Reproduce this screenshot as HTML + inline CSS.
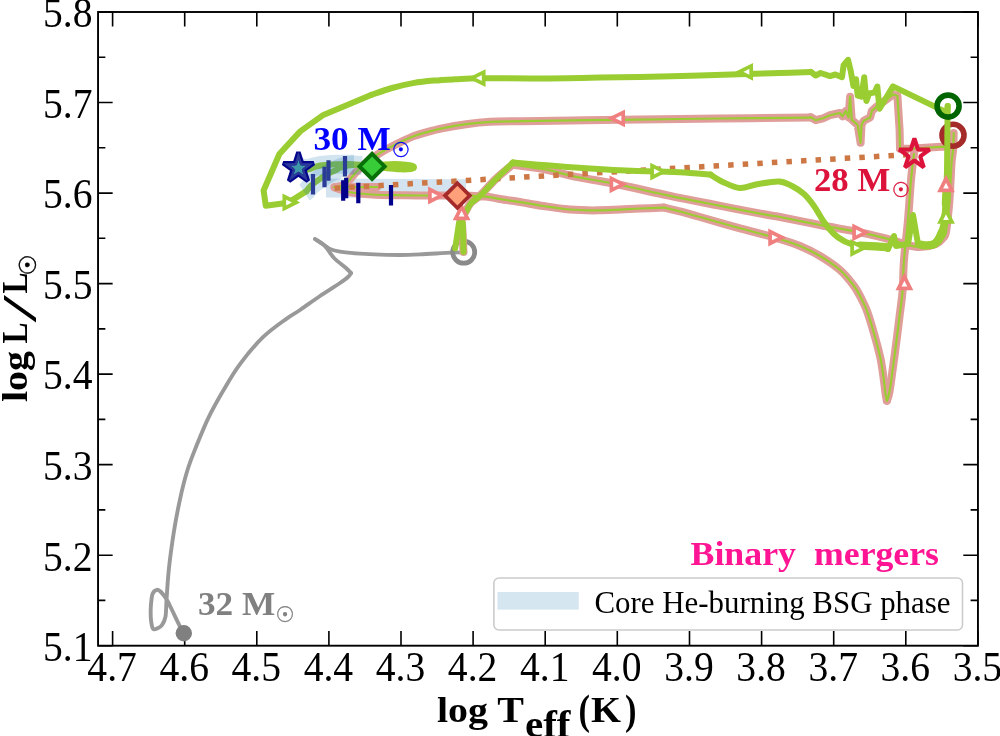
<!DOCTYPE html>
<html lang="en"><head><meta charset="utf-8"><title>HR diagram - binary mergers</title>
<style>html,body{margin:0;padding:0;background:#fff;overflow:hidden}svg{display:block}</style></head>
<body>
<svg width="1000" height="736" viewBox="0 0 1000 736">
<rect width="1000" height="736" fill="#fff"/>
<defs><clipPath id="ax"><rect x="98.05" y="12.0" width="879.85" height="633.7"/></clipPath></defs>
<g clip-path="url(#ax)" fill="none" stroke-linejoin="round">
<g stroke="#999999" stroke-width="3.9" stroke-linecap="round">
<path d="M183.8 633.3 C183.2 632.2 182 630.4 180 626.5 C178 622.6 174.2 614.5 172 610 C169.8 605.5 168.5 602.6 166.7 599.6 C164.9 596.6 162.6 593.6 161 592 C159.4 590.4 158.3 589.5 156.9 589.8 C155.5 590.1 153.5 591.1 152.5 594 C151.5 596.9 151.1 602.7 150.8 607 C150.6 611.3 150.6 616.3 151 620 C151.4 623.7 152 627.7 153.2 629 C154.4 630.3 156.6 628.6 158 628 C159.4 627.4 160.6 627.2 161.8 625.3 C163.1 623.4 164.7 621.4 165.5 616.7 C166.3 612 166.1 605.1 166.7 597 C167.3 588.9 167.8 578.8 169 567.8 C170.2 556.8 172.2 542.4 174 531 C175.8 519.6 177.8 509.5 180 499.3 C182.2 489.1 184.8 478.7 187.5 470 C190.2 461.3 192.5 455.7 196 447 C199.5 438.3 204 426.9 208.5 417.6 C213 408.3 217.8 399.9 223 391 C228.2 382.1 233.1 373.3 239.8 364.3 C246.5 355.3 255.2 344.8 263 337.2 C270.8 329.6 280.5 323.1 286.7 318.6 C292.9 314.1 294.4 313.8 300 310 C305.6 306.2 313.3 300.5 320 296 C326.7 291.5 335.3 286.2 340 283 C344.7 279.8 346.2 278.7 348 277 C349.8 275.3 350.5 273.7 351 273"/>
<path d="M351 273 C350.2 272.2 348.8 270.5 346 268 C343.2 265.5 337.5 261.7 334 258 C330.5 254.3 328.2 249.2 325 246 C321.8 242.8 316.7 240.2 315 239"/>
<path d="M315 239 C316.5 240 321.5 243.3 324 245 C326.5 246.7 327.3 247.9 330 249 C332.7 250.1 335 250.8 340 251.6 C345 252.4 353.3 253.1 360 253.6 C366.7 254.1 373.3 254.4 380 254.6 C386.7 254.8 393.3 255 400 255 C406.7 255 411.3 254.8 420 254.4 C428.7 254 444.7 252.9 452 252.6 C459.3 252.3 462 252.4 464 252.4"/>
</g>
<circle cx="463.7" cy="252.2" r="11" stroke="#8a8a8a" stroke-width="4.8"/>
<path d="M326 188 L466 188.7" stroke="#d3e4f0" stroke-width="19"/>
<g stroke="#df9e99" stroke-width="8" stroke-linecap="round">
<path d="M463.5 252 C463.2 247.3 462.5 229.4 462 224 C461.5 218.6 460.8 220.5 460.5 219.8"/>
<path d="M460.5 219.8 C461.3 218.5 463.5 215 465.2 212.2 C466.9 209.4 468.2 205.8 470.8 202.9 C473.4 200.1 476.3 199.1 480.5 195.1 C484.7 191.1 490.5 184.1 495.8 179 C501.1 173.9 509.7 167.2 512.5 164.8"/>
<path d="M512.5 164.8 C518.2 165.6 537 167.9 546.8 169.7 C556.6 171.5 559.9 173.4 571.3 175.8 C582.7 178.2 599 180.7 615.3 184 C631.6 187.3 651.8 192 668.9 195.6 C686 199.2 701.6 202.2 717.9 205.4 C734.2 208.6 756.4 212.9 766.8 214.8 C777.1 216.7 771.1 215.3 780 217 C788.9 218.7 806.7 222.4 820 225 C833.3 227.6 848 229.9 860 232.4 C872 234.9 884.7 238.1 892 240 C899.3 241.9 899.3 242.8 904 244 C908.7 245.2 914.7 247 920 247 C925.3 247 932.2 245.5 936 244 C939.8 242.5 941.3 240 943 238 C944.7 236 945 237.3 946 232 C947 226.7 948.2 214.7 949 206 C949.8 197.3 950.2 187.3 950.6 180 C951 172.7 951.2 167.2 951.6 162 C952 156.8 952.9 153.3 953.2 148.5 C953.6 143.7 953.6 135.6 953.7 133"/>
<path d="M953.2 147.6 L944.8 146.6 L914 148.5 L900 148.7"/>
<path d="M900 148.5 L899.6 130 L897.4 95.7 L893 94.6 L880 104.3 L876.7 106.5 L871.8 110.9 L870.2 117.4 L863.7 120.7 L861.5 125 L860.6 142.8 L857.7 125 L851.7 119.6 L850.1 96.7 L848.5 117.4 L845.8 110.9 L842.5 116.3 L839.8 113 L830 115.2 L823 118.3 L815.7 120.2 L810.8 117.1"/>
<path d="M810.8 117.6 C795.3 117.8 749.7 118.1 717.9 118.5 C686.1 118.9 644.4 119.5 620 119.8 C595.6 120.1 587.6 120.2 571.3 120.4 C555 120.6 535.8 121 522.3 121.2 C508.7 121.4 499.4 121.3 490 121.8 C480.6 122.3 474 123.1 466 124.2 C458 125.3 448.8 127 442 128.4 C435.2 129.8 429.8 131.3 425 132.6 C420.2 133.9 416.8 134.9 413 136.4 C409.2 137.9 405.8 139.6 402.2 141.3 C398.6 143 394.9 144.8 391.3 146.7 C387.7 148.6 383.6 150.8 380.4 152.7 C377.2 154.6 374.6 156.4 372 158.2 C369.4 160 367.2 161.7 365 163.6 C362.8 165.5 360.6 167.5 358.6 169.6 C356.6 171.7 354.5 174 352.8 176 C351.1 178 349.7 180.1 348.2 181.6 C346.7 183.1 345.7 184.2 344 185 C342.3 185.8 339.6 186.3 338 186.7 C336.4 187.1 335.1 187.1 334.5 187.2"/>
<path d="M334.5 187.2 L377 187"/>
<path d="M336 188 C338.2 188.7 343 190.9 349 192 C355 193.1 362.7 193.9 372 194.5 C381.3 195.1 394 195.1 405 195.3 C416 195.5 429.2 195.5 438 195.5 C446.8 195.5 454.7 195.5 458 195.5"/>
<path d="M458 195.3 C460.2 195.4 466.3 195.6 471 195.8 C475.7 196 481.2 196.1 486 196.6 C490.8 197.1 494 198 500 199 C506 200 514.8 201.2 522 202.4 C529.2 203.6 536.3 204.9 543.5 206 C550.7 207.1 557.8 208.3 565 209 C572.2 209.7 581.2 210.1 587 210.3 C592.8 210.5 594.5 210.4 600 210.3 C605.5 210.2 613.3 209.9 620 209.6 C626.7 209.3 632.7 208.8 640 208.5 C647.3 208.2 660 207.8 664 207.6"/>
<path d="M664 207.6 C666.8 208.3 675 210.1 681 211.7 C687 213.3 690.2 214.2 700 217 C709.8 219.8 727.3 224.8 740 228.3 C752.7 231.8 766 235.1 776 238 C786 240.9 792.7 243 800 246 C807.3 249 813.3 252 820 256 C826.7 260 834.3 265 840 270 C845.7 275 850.3 281 854 286 C857.7 291 859.8 295.6 862 300 C864.2 304.4 865.3 306.1 867.5 312.3 C869.7 318.5 872.8 329.1 875 337 C877.2 344.9 879.3 352.8 880.8 359.8 C882.2 366.8 882.9 373.2 883.7 378.9 C884.5 384.6 885.1 390.4 885.6 394 C886.1 397.6 886.7 399.6 886.9 400.7"/>
<path d="M886.9 400.7 C887.3 399.3 888.3 398 889.4 392.2 C890.5 386.4 891.9 374.8 893.2 365.6 C894.5 356.4 895.9 345.6 897 337 C898.1 328.4 898.8 322.1 899.8 314.2 C900.8 306.3 902 298.5 902.7 289.5 C903.4 280.5 903.1 271.6 904 260 C904.9 248.4 906.8 233.3 908 220 C909.2 206.7 910 191 911 180 C912 169 913.5 158.3 914 154"/>
</g>
<g stroke="#9acd32" stroke-width="2.2" stroke-linecap="round">
<path d="M463.5 252 C463.2 247.3 462.5 229.4 462 224 C461.5 218.6 460.8 220.5 460.5 219.8"/>
<path d="M460.5 219.8 C461.3 218.5 463.5 215 465.2 212.2 C466.9 209.4 468.2 205.8 470.8 202.9 C473.4 200.1 476.3 199.1 480.5 195.1 C484.7 191.1 490.5 184.1 495.8 179 C501.1 173.9 509.7 167.2 512.5 164.8"/>
<path d="M512.5 164.8 C518.2 165.6 537 167.9 546.8 169.7 C556.6 171.5 559.9 173.4 571.3 175.8 C582.7 178.2 599 180.7 615.3 184 C631.6 187.3 651.8 192 668.9 195.6 C686 199.2 701.6 202.2 717.9 205.4 C734.2 208.6 756.4 212.9 766.8 214.8 C777.1 216.7 771.1 215.3 780 217 C788.9 218.7 806.7 222.4 820 225 C833.3 227.6 848 229.9 860 232.4 C872 234.9 884.7 238.1 892 240 C899.3 241.9 899.3 242.8 904 244 C908.7 245.2 914.7 247 920 247 C925.3 247 932.2 245.5 936 244 C939.8 242.5 941.3 240 943 238 C944.7 236 945 237.3 946 232 C947 226.7 948.2 214.7 949 206 C949.8 197.3 950.2 187.3 950.6 180 C951 172.7 951.2 167.2 951.6 162 C952 156.8 952.9 153.3 953.2 148.5 C953.6 143.7 953.6 135.6 953.7 133"/>
<path d="M953.2 147.6 L944.8 146.6 L914 148.5 L900 148.7"/>
<path d="M900 148.5 L899.6 130 L897.4 95.7 L893 94.6 L880 104.3 L876.7 106.5 L871.8 110.9 L870.2 117.4 L863.7 120.7 L861.5 125 L860.6 142.8 L857.7 125 L851.7 119.6 L850.1 96.7 L848.5 117.4 L845.8 110.9 L842.5 116.3 L839.8 113 L830 115.2 L823 118.3 L815.7 120.2 L810.8 117.1"/>
<path d="M810.8 117.6 C795.3 117.8 749.7 118.1 717.9 118.5 C686.1 118.9 644.4 119.5 620 119.8 C595.6 120.1 587.6 120.2 571.3 120.4 C555 120.6 535.8 121 522.3 121.2 C508.7 121.4 499.4 121.3 490 121.8 C480.6 122.3 474 123.1 466 124.2 C458 125.3 448.8 127 442 128.4 C435.2 129.8 429.8 131.3 425 132.6 C420.2 133.9 416.8 134.9 413 136.4 C409.2 137.9 405.8 139.6 402.2 141.3 C398.6 143 394.9 144.8 391.3 146.7 C387.7 148.6 383.6 150.8 380.4 152.7 C377.2 154.6 374.6 156.4 372 158.2 C369.4 160 367.2 161.7 365 163.6 C362.8 165.5 360.6 167.5 358.6 169.6 C356.6 171.7 354.5 174 352.8 176 C351.1 178 349.7 180.1 348.2 181.6 C346.7 183.1 345.7 184.2 344 185 C342.3 185.8 339.6 186.3 338 186.7 C336.4 187.1 335.1 187.1 334.5 187.2"/>
<path d="M334.5 187.2 L377 187"/>
<path d="M336 188 C338.2 188.7 343 190.9 349 192 C355 193.1 362.7 193.9 372 194.5 C381.3 195.1 394 195.1 405 195.3 C416 195.5 429.2 195.5 438 195.5 C446.8 195.5 454.7 195.5 458 195.5"/>
<path d="M458 195.3 C460.2 195.4 466.3 195.6 471 195.8 C475.7 196 481.2 196.1 486 196.6 C490.8 197.1 494 198 500 199 C506 200 514.8 201.2 522 202.4 C529.2 203.6 536.3 204.9 543.5 206 C550.7 207.1 557.8 208.3 565 209 C572.2 209.7 581.2 210.1 587 210.3 C592.8 210.5 594.5 210.4 600 210.3 C605.5 210.2 613.3 209.9 620 209.6 C626.7 209.3 632.7 208.8 640 208.5 C647.3 208.2 660 207.8 664 207.6"/>
<path d="M664 207.6 C666.8 208.3 675 210.1 681 211.7 C687 213.3 690.2 214.2 700 217 C709.8 219.8 727.3 224.8 740 228.3 C752.7 231.8 766 235.1 776 238 C786 240.9 792.7 243 800 246 C807.3 249 813.3 252 820 256 C826.7 260 834.3 265 840 270 C845.7 275 850.3 281 854 286 C857.7 291 859.8 295.6 862 300 C864.2 304.4 865.3 306.1 867.5 312.3 C869.7 318.5 872.8 329.1 875 337 C877.2 344.9 879.3 352.8 880.8 359.8 C882.2 366.8 882.9 373.2 883.7 378.9 C884.5 384.6 885.1 390.4 885.6 394 C886.1 397.6 886.7 399.6 886.9 400.7"/>
<path d="M886.9 400.7 C887.3 399.3 888.3 398 889.4 392.2 C890.5 386.4 891.9 374.8 893.2 365.6 C894.5 356.4 895.9 345.6 897 337 C898.1 328.4 898.8 322.1 899.8 314.2 C900.8 306.3 902 298.5 902.7 289.5 C903.4 280.5 903.1 271.6 904 260 C904.9 248.4 906.8 233.3 908 220 C909.2 206.7 910 191 911 180 C912 169 913.5 158.3 914 154"/>
</g>
<path d="M334.6 188.2 L914 154.3" stroke="#cd7744" stroke-width="5.5" stroke-dasharray="5.5 9.1"/>
<circle cx="953" cy="135.2" r="11" stroke="#a52a2a" stroke-width="5.6"/>
<g stroke="#9acd32" stroke-width="6" stroke-linecap="round">
<path d="M455.2 248.4 L459 223 L461 219.8"/>
<path d="M463.5 252 C463.4 247.3 463.2 229.4 462.8 224 C462.4 218.6 461.3 220.5 461 219.8"/>
<path d="M461 219.8 C461.8 218.5 463.9 215 465.6 212.2 C467.3 209.4 468.8 205.8 471.3 202.9 C473.8 200.1 476.7 199.1 480.8 195.1 C484.9 191.1 490.6 184.4 496 179 C501.4 173.6 510.2 165.2 513 162.5"/>
<path d="M513 162.5 C518.6 163 534 164.3 546.8 165.3 C559.6 166.3 577.8 167.8 590 168.6 C602.2 169.4 608.7 169.8 620 170.3 C631.3 170.8 648 171.3 658 171.6 C668 171.9 671.2 171.8 680 172.3 C688.8 172.8 705.4 174.2 710.5 174.6"/>
<path d="M710.5 174.6 C712.5 175.8 717.9 179.7 722.8 181.9 C727.7 184.1 734.2 187.6 739.9 188 C745.6 188.4 750.5 185.4 757 184.3 C763.5 183.2 773.2 181.1 779 181.4 C784.8 181.7 787.8 183.9 792 186 C796.2 188.1 800.3 190.7 804 194 C807.7 197.3 810.7 201.3 814 206 C817.3 210.7 820.7 217.3 824 222 C827.3 226.7 830.7 230.8 834 234 C837.3 237.2 840.3 239.2 844 241 C847.7 242.8 850 244.2 856 245 C862 245.8 874.7 245.3 880 246 C885.3 246.7 886.7 248.5 888 249"/>
<path d="M888 249 L894 236 L896 246 L908 244 L913 215 L918 244 L924 246"/>
<path d="M924 246 C925.7 245.5 931.3 245 934 243 C936.7 241 938.5 236.8 940 234 C941.5 231.2 942.2 230 943 226 C943.8 222 944.5 215.7 945 210 C945.5 204.3 945.7 198.5 946 192 C946.3 185.5 946.7 185.3 947 171 C947.3 156.7 947.5 116.8 947.6 106"/>
<path d="M860 245.6 L875 246.3 L886 247.2" stroke-width="8.3"/>
<path d="M920 244.6 C921.2 244.7 924.7 245.5 927 245.4 C929.3 245.3 932 245.2 934 244.2 C936 243.2 937.7 241.5 939 239.5 C940.3 237.5 941.5 233.2 942 232" stroke-width="8.3"/>
<path d="M946 204 L946.6 192" stroke-width="8.5"/>
<path d="M947.8 106 L947.3 112.6 L893 86.4 L879.5 108.7 L877.3 86.4 L874.6 92.4 L869.1 93.5 L866.4 101 L864.2 77.2 L861.5 96.7 L857.7 95.7 L856 79.3 L853.4 85.9 L850.7 70.7 L848 59.8 L843.6 65.2 L842 77.2 L835.4 74.5 L830 76.1 L820.6 73 L815.7 75.5 L810.8 71.8"/>
<path d="M810.8 71.9 C805.7 72.1 790.6 72.7 780 73 C769.4 73.3 760.3 73.6 747 74 C733.7 74.4 717.8 75 700 75.5 C682.2 76 656.7 76.6 640 76.9 C623.3 77.2 616.7 77.3 600 77.6 C583.3 77.9 560 78.4 540 78.5 C520 78.6 494.2 78.1 480 78.2 C465.8 78.3 462.7 78.9 455 79.3 C447.3 79.7 441 80 434 80.6 C427 81.2 420 81.9 413 83.1 C406 84.3 399 86 392 88 C385 90 374.5 93.8 371 95"/>
<path d="M371 95 L323.4 114.9 L300.2 131.4 L279.4 154 L263.6 190.5 L265.8 205.8 L288 202.8 L306.5 191.1"/>
<path d="M306.5 191.1 C307.2 190.2 308.7 187.7 310.9 185.7 C313.1 183.7 316.7 181.1 319.6 179.1 C322.5 177.1 325.7 175.2 328.3 173.7 C330.9 172.2 333.4 171.3 335.5 170.3 C337.6 169.3 338.1 168.4 341 167.5 C343.9 166.6 347.8 165.2 353 165 C358.2 164.8 368.8 166.2 372 166.4"/>
<path d="M372 166.4 C374.2 166.1 380.3 164.9 385 164.5 C389.7 164.1 395.7 164 400 164.2 C404.3 164.4 408.7 165 411 165.5 C413.3 166 414 166.7 414 167.3 C414 167.9 413.3 168.7 411 169 C408.7 169.3 404.3 169.5 400 169.3 C395.7 169.1 389.7 168.5 385 168 C380.3 167.5 374.2 166.8 372 166.5"/>
<path d="M298.5 168 C300 168.3 304.7 169.9 307.7 169.6 C310.7 169.3 313.7 167.1 316.7 166.3 C319.7 165.5 322.3 165.3 325.7 165 C329.1 164.7 332.4 164.4 337 164.3 C341.6 164.2 347.2 163.8 353 164.2 C358.8 164.5 368.8 166 372 166.4"/>
</g>
<g stroke="#1f77b4" stroke-opacity="0.2" stroke-width="19" stroke-linecap="butt" stroke-linejoin="round">
<path d="M304.5 192.5 C304.8 192.3 305.4 192.2 306.5 191.1 C307.6 190 308.7 187.7 310.9 185.7 C313.1 183.7 316.7 181.1 319.6 179.1 C322.5 177.1 325.7 175.2 328.3 173.7 C330.9 172.2 333.4 171.3 335.5 170.3 C337.6 169.3 338.1 168.4 341 167.5 C343.9 166.6 349.5 165.3 353 165 C356.5 164.7 360.5 165.5 362 165.6"/>
<path d="M300 167.5 C301.3 167.7 304.9 168.8 307.7 168.6 C310.5 168.4 313.7 166.9 316.7 166.3 C319.7 165.7 322.3 165.3 325.7 165 C329.1 164.7 332.3 164.4 337 164.3 C341.7 164.2 351.2 164.2 354 164.2"/>
</g>
<line x1="313" y1="174.1" x2="313" y2="194.6" stroke="#2b3c96" stroke-width="4.2"/>
<line x1="324.5" y1="166.8" x2="324.5" y2="187.2" stroke="#2b3c96" stroke-width="4.2"/>
<line x1="328.5" y1="160.2" x2="328.5" y2="180.7" stroke="#2b3c96" stroke-width="4.2"/>
<line x1="345" y1="156.1" x2="345" y2="176.6" stroke="#2b3c96" stroke-width="4.2"/>
<line x1="343.2" y1="180.2" x2="343.2" y2="200.7" stroke="#00008b" stroke-width="4.2"/>
<line x1="346.2" y1="177.8" x2="346.2" y2="198.2" stroke="#00008b" stroke-width="4.2"/>
<line x1="358.3" y1="182.8" x2="358.3" y2="203.2" stroke="#00008b" stroke-width="4.2"/>
<line x1="391" y1="184.9" x2="391" y2="205.4" stroke="#00008b" stroke-width="4.2"/>
<polygon transform="translate(477.8 78.1) rotate(-90)" points="0,-5.9 -5.9,5.9 5.9,5.9" fill="#fff" stroke="#9acd32" stroke-width="3.7" stroke-linejoin="miter"/>
<polygon transform="translate(745.3 71.8) rotate(-90)" points="0,-5.9 -5.9,5.9 5.9,5.9" fill="#fff" stroke="#9acd32" stroke-width="3.7" stroke-linejoin="miter"/>
<polygon transform="translate(290.2 202.5) rotate(90)" points="0,-5.9 -5.9,5.9 5.9,5.9" fill="#fff" stroke="#9acd32" stroke-width="3.7" stroke-linejoin="miter"/>
<polygon transform="translate(658 171.6) rotate(90)" points="0,-5.9 -5.9,5.9 5.9,5.9" fill="#fff" stroke="#9acd32" stroke-width="3.7" stroke-linejoin="miter"/>
<polygon transform="translate(858 248) rotate(90)" points="0,-5.9 -5.9,5.9 5.9,5.9" fill="#fff" stroke="#9acd32" stroke-width="3.7" stroke-linejoin="miter"/>
<polygon transform="translate(946 216) rotate(0)" points="0,-5.9 -5.9,5.9 5.9,5.9" fill="#fff" stroke="#9acd32" stroke-width="3.7" stroke-linejoin="miter"/>
<polygon transform="translate(617.3 118.3) rotate(-90)" points="0,-5.9 -5.9,5.9 5.9,5.9" fill="#fff" stroke="#f08080" stroke-width="3.7" stroke-linejoin="miter"/>
<polygon transform="translate(617.3 184.3) rotate(90)" points="0,-5.9 -5.9,5.9 5.9,5.9" fill="#fff" stroke="#f08080" stroke-width="3.7" stroke-linejoin="miter"/>
<polygon transform="translate(776 237.5) rotate(90)" points="0,-5.9 -5.9,5.9 5.9,5.9" fill="#fff" stroke="#f08080" stroke-width="3.7" stroke-linejoin="miter"/>
<polygon transform="translate(860 232.4) rotate(90)" points="0,-5.9 -5.9,5.9 5.9,5.9" fill="#fff" stroke="#f08080" stroke-width="3.7" stroke-linejoin="miter"/>
<polygon transform="translate(435.8 195.5) rotate(90)" points="0,-5.9 -5.9,5.9 5.9,5.9" fill="#fff" stroke="#f08080" stroke-width="3.7" stroke-linejoin="miter"/>
<polygon transform="translate(461.6 212.5) rotate(0)" points="0,-5.9 -5.9,5.9 5.9,5.9" fill="#fff" stroke="#f08080" stroke-width="3.7" stroke-linejoin="miter"/>
<polygon transform="translate(904.4 282.5) rotate(0)" points="0,-5.9 -5.9,5.9 5.9,5.9" fill="#fff" stroke="#f08080" stroke-width="3.7" stroke-linejoin="miter"/>
<polygon transform="translate(946 184.5) rotate(0)" points="0,-5.9 -5.9,5.9 5.9,5.9" fill="#fff" stroke="#f08080" stroke-width="3.7" stroke-linejoin="miter"/>
<circle cx="948.1" cy="106.1" r="11" stroke="#006400" stroke-width="5.6"/>
<polygon points="914.4,138.4 918,149.5 929.6,149.5 920.2,156.3 923.8,167.3 914.4,160.5 905,167.3 908.6,156.3 899.2,149.5 910.8,149.5" fill="none" stroke="#dc143c" stroke-width="4.1" stroke-linejoin="bevel" stroke-miterlimit="10"/>
<polygon points="457.4,183.2 469.8,195.6 457.4,208 445,195.6" fill="#ffa07a" stroke="#a52a2a" stroke-width="3.7" stroke-linejoin="miter"/>
<polygon points="372.1,153.8 384.7,166.4 372.1,179 359.5,166.4" fill="#38cd38" stroke="#087008" stroke-width="3.9" stroke-linejoin="miter"/>
<polygon points="298.4,152.1 302,163.2 313.7,163.2 304.3,170 307.9,181 298.4,174.2 289,181 292.6,170 283.2,163.2 294.9,163.2" fill="#3f98a8" stroke="#06068c" stroke-width="4.5" stroke-linejoin="bevel" stroke-miterlimit="10"/>
<polygon points="298.4,155.7 301.2,164.3 310.2,164.3 303,169.6 305.7,178.1 298.4,172.8 291.2,178.1 293.9,169.6 286.7,164.3 295.7,164.3" fill="none" stroke="#2b3a99" stroke-width="2.2" stroke-linejoin="miter" stroke-miterlimit="10"/>
</g>
<g stroke="#000" fill="none">
<rect x="98.05" y="12.0" width="879.9" height="633.7" stroke-width="1.9"/>
<path d="M977.9 645.7 v-14.6 M977.9 12.0 v14.6 M905.8 645.7 v-14.6 M905.8 12.0 v14.6 M833.7 645.7 v-14.6 M833.7 12.0 v14.6 M761.6 645.7 v-14.6 M761.6 12.0 v14.6 M689.5 645.7 v-14.6 M689.5 12.0 v14.6 M617.3 645.7 v-14.6 M617.3 12.0 v14.6 M545.2 645.7 v-14.6 M545.2 12.0 v14.6 M473.1 645.7 v-14.6 M473.1 12.0 v14.6 M401 645.7 v-14.6 M401 12.0 v14.6 M328.9 645.7 v-14.6 M328.9 12.0 v14.6 M256.8 645.7 v-14.6 M256.8 12.0 v14.6 M184.7 645.7 v-14.6 M184.7 12.0 v14.6 M112.6 645.7 v-14.6 M112.6 12.0 v14.6 M98.05 645.7 h14.6 M977.9 645.7 h-14.6 M98.05 555.2 h14.6 M977.9 555.2 h-14.6 M98.05 464.6 h14.6 M977.9 464.6 h-14.6 M98.05 374.1 h14.6 M977.9 374.1 h-14.6 M98.05 283.6 h14.6 M977.9 283.6 h-14.6 M98.05 193.1 h14.6 M977.9 193.1 h-14.6 M98.05 102.5 h14.6 M977.9 102.5 h-14.6 M98.05 12 h14.6 M977.9 12 h-14.6 M98.05 600.4 h7.3 M977.9 600.4 h-7.3 M98.05 509.9 h7.3 M977.9 509.9 h-7.3 M98.05 419.4 h7.3 M977.9 419.4 h-7.3 M98.05 328.9 h7.3 M977.9 328.9 h-7.3 M98.05 238.3 h7.3 M977.9 238.3 h-7.3 M98.05 147.8 h7.3 M977.9 147.8 h-7.3 M98.05 57.3 h7.3 M977.9 57.3 h-7.3 " stroke-width="1.6"/>
</g>
<circle cx="183.8" cy="633.3" r="8.2" fill="#808080"/>
<g font-family="'Liberation Serif', serif" font-size="41.5" fill="#000">
<text x="977.4" y="680.7" text-anchor="middle" textLength="49.5" lengthAdjust="spacingAndGlyphs">3.5</text>
<text x="905.3" y="680.7" text-anchor="middle" textLength="49.5" lengthAdjust="spacingAndGlyphs">3.6</text>
<text x="833.2" y="680.7" text-anchor="middle" textLength="49.5" lengthAdjust="spacingAndGlyphs">3.7</text>
<text x="761.1" y="680.7" text-anchor="middle" textLength="49.5" lengthAdjust="spacingAndGlyphs">3.8</text>
<text x="689" y="680.7" text-anchor="middle" textLength="49.5" lengthAdjust="spacingAndGlyphs">3.9</text>
<text x="616.8" y="680.7" text-anchor="middle" textLength="49.5" lengthAdjust="spacingAndGlyphs">4.0</text>
<text x="544.7" y="680.7" text-anchor="middle" textLength="49.5" lengthAdjust="spacingAndGlyphs">4.1</text>
<text x="472.6" y="680.7" text-anchor="middle" textLength="49.5" lengthAdjust="spacingAndGlyphs">4.2</text>
<text x="400.5" y="680.7" text-anchor="middle" textLength="49.5" lengthAdjust="spacingAndGlyphs">4.3</text>
<text x="328.4" y="680.7" text-anchor="middle" textLength="49.5" lengthAdjust="spacingAndGlyphs">4.4</text>
<text x="256.3" y="680.7" text-anchor="middle" textLength="49.5" lengthAdjust="spacingAndGlyphs">4.5</text>
<text x="184.2" y="680.7" text-anchor="middle" textLength="49.5" lengthAdjust="spacingAndGlyphs">4.6</text>
<text x="112.1" y="680.7" text-anchor="middle" textLength="49.5" lengthAdjust="spacingAndGlyphs">4.7</text>
<text x="92.5" y="661" text-anchor="end" textLength="49.5" lengthAdjust="spacingAndGlyphs">5.1</text>
<text x="92.5" y="570.5" text-anchor="end" textLength="49.5" lengthAdjust="spacingAndGlyphs">5.2</text>
<text x="92.5" y="479.9" text-anchor="end" textLength="49.5" lengthAdjust="spacingAndGlyphs">5.3</text>
<text x="92.5" y="389.4" text-anchor="end" textLength="49.5" lengthAdjust="spacingAndGlyphs">5.4</text>
<text x="92.5" y="298.9" text-anchor="end" textLength="49.5" lengthAdjust="spacingAndGlyphs">5.5</text>
<text x="92.5" y="208.4" text-anchor="end" textLength="49.5" lengthAdjust="spacingAndGlyphs">5.6</text>
<text x="92.5" y="117.8" text-anchor="end" textLength="49.5" lengthAdjust="spacingAndGlyphs">5.7</text>
<text x="92.5" y="27.3" text-anchor="end" textLength="49.5" lengthAdjust="spacingAndGlyphs">5.8</text>
</g>
<g font-family="'Liberation Serif', serif" font-weight="bold" font-size="34">
<text x="313.5" y="150.4" fill="#0000ff" textLength="77.3" lengthAdjust="spacingAndGlyphs">30 M</text>
<text x="814" y="190.8" fill="#dc143c" textLength="76.2" lengthAdjust="spacingAndGlyphs">28 M</text>
<text x="198" y="615.3" fill="#808080" textLength="77.3" lengthAdjust="spacingAndGlyphs">32 M</text>
</g>
<text x="391.4" y="157" font-family="'DejaVu Sans', sans-serif" font-size="20.55" fill="#0000ff" stroke="#0000ff" stroke-width="0.35">☉</text>
<text x="891.5" y="197.1" font-family="'DejaVu Sans', sans-serif" font-size="20.55" fill="#dc143c" stroke="#dc143c" stroke-width="0.35">☉</text>
<text x="275.3" y="622.3" font-family="'DejaVu Sans', sans-serif" font-size="21.37" fill="#808080" stroke="#808080" stroke-width="0.35">☉</text>
<text x="690.5" y="564.5" font-family="'Liberation Serif', serif" font-weight="bold" font-size="33.5" fill="#ff1493" textLength="105.5" lengthAdjust="spacingAndGlyphs">Binary</text>
<text x="814" y="564.5" font-family="'Liberation Serif', serif" font-weight="bold" font-size="33.5" fill="#ff1493" textLength="125" lengthAdjust="spacingAndGlyphs">mergers</text>
<rect x="493.9" y="578" width="468.6" height="52" rx="5" ry="5" fill="#fff" fill-opacity="0.8" stroke="#ccc" stroke-width="1.6"/>
<rect x="497.5" y="592" width="81.2" height="17.6" fill="#d5e6f1"/>
<text x="594.5" y="612.5" font-family="'Liberation Serif', serif" font-size="32.3" fill="#000" textLength="356" lengthAdjust="spacingAndGlyphs">Core He-burning BSG phase</text>
<g font-family="'Liberation Serif', serif" font-weight="bold" font-size="35.5" fill="#000">
<text x="437" y="722" textLength="87" lengthAdjust="spacingAndGlyphs">log T</text>
<text x="525" y="737" font-size="38" textLength="45.5" lengthAdjust="spacingAndGlyphs">eff</text>
<text x="578.6" y="723.6" font-size="42" textLength="11.5" lengthAdjust="spacingAndGlyphs">(</text>
<text x="591" y="722" textLength="30" lengthAdjust="spacingAndGlyphs">K</text>
<text x="625" y="723.6" font-size="42" textLength="11.5" lengthAdjust="spacingAndGlyphs">)</text>
<g transform="translate(26.5 402) rotate(-90)">
<text x="0" y="0" textLength="51" lengthAdjust="spacingAndGlyphs">log</text>
<text x="58.5" y="0" textLength="21" lengthAdjust="spacingAndGlyphs">L</text>
<text x="79.5" y="9" font-size="49.5" font-weight="normal" textLength="27.5" lengthAdjust="spacingAndGlyphs">/</text>
<text x="108.5" y="0" textLength="21" lengthAdjust="spacingAndGlyphs">L</text>
</g>
</g>
<g transform="translate(26.5 402) rotate(-90)">
<text x="126.4" y="9.2" font-family="'DejaVu Sans', sans-serif" font-size="23.84" fill="#000" stroke="#000" stroke-width="0.45">☉</text>
</g>
</svg>
</body></html>
